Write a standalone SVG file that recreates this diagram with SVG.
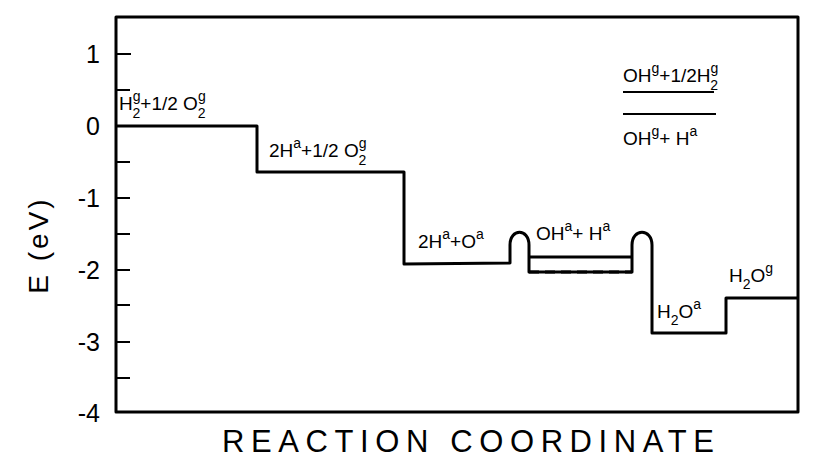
<svg xmlns="http://www.w3.org/2000/svg" width="815" height="459" viewBox="0 0 815 459">
<style>
.ln{fill:none;stroke:#000;stroke-width:3;stroke-linejoin:round}
.tk{stroke:#000;stroke-width:2}
text{font-family:"Liberation Sans",Arial,sans-serif;fill:#000}
.lb{font-size:19px}
.ax{font-size:25px}
.sb{font-size:14px}
</style>
<rect x="0" y="0" width="815" height="459" fill="#fff"/>
<g id="axes">
<rect x="116" y="17" width="682" height="395" class="ln"/>
<g class="tk">
<line x1="116" y1="54" x2="131" y2="54"/><line x1="116" y1="90" x2="130" y2="90"/>
<line x1="116" y1="126" x2="130" y2="126"/><line x1="116" y1="162" x2="130" y2="162"/>
<line x1="116" y1="198" x2="130" y2="198"/><line x1="116" y1="234" x2="130" y2="234"/>
<line x1="116" y1="270" x2="130" y2="270"/><line x1="116" y1="305" x2="130" y2="305"/>
<line x1="116" y1="342" x2="130" y2="342"/><line x1="116" y1="378" x2="130" y2="378"/>
</g>
<g class="ax" text-anchor="end">
<text x="100" y="63">1</text><text x="100" y="135">0</text><text x="100" y="207">-1</text>
<text x="100" y="279">-2</text><text x="100" y="351">-3</text><text x="100" y="422">-4</text>
</g>
<text transform="translate(48,245) rotate(-90)" text-anchor="middle" font-size="28" letter-spacing="3">E (eV)</text>
<text x="222" y="452" font-size="31" textLength="492" lengthAdjust="spacing">REACTION  COORDINATE</text>
</g>
<g id="connectors">
<path class="ln" d="M116,126 H257 V172 H404 V264 L510,263 V245 C510,228 529,228 529,245 V272 H632 V245 C632,228 652,228 652,245 V333 H726 V298 H798"/>
<path class="ln" d="M529,257 H632"/>
<path class="ln" d="M529,272 H632" stroke-dasharray="10,6"/>
</g>
<g id="n1"><text x="119" y="110" class="lb">H<tspan class="sb" dy="-9">g</tspan><tspan class="sb" dx="-8" dy="17">2</tspan><tspan dy="-8">+1/2 O</tspan><tspan class="sb" dy="-9">g</tspan><tspan class="sb" dx="-8" dy="17">2</tspan></text></g>
<g id="n2"><text x="269" y="157" class="lb">2H<tspan class="sb" dy="-9">a</tspan><tspan dy="9">+1/2 O</tspan><tspan class="sb" dy="-9">g</tspan><tspan class="sb" dx="-8" dy="17">2</tspan></text></g>
<g id="n3"><text x="418" y="248" class="lb">2H<tspan class="sb" dy="-9">a</tspan><tspan dy="9">+O</tspan><tspan class="sb" dy="-9">a</tspan></text></g>
<g id="n4"><text x="536" y="240" class="lb">OH<tspan class="sb" dy="-9">a</tspan><tspan dy="9">+ H</tspan><tspan class="sb" dy="-9">a</tspan></text></g>
<g id="n5"><text x="657" y="318" class="lb">H<tspan class="sb" dy="7">2</tspan><tspan dy="-7">O</tspan><tspan class="sb" dy="-9">a</tspan></text></g>
<g id="n6"><text x="729" y="282" class="lb">H<tspan class="sb" dy="7">2</tspan><tspan dy="-7">O</tspan><tspan class="sb" dy="-9">g</tspan></text></g>
<g id="legend">
<text x="623" y="82" class="lb">OH<tspan class="sb" dy="-9">g</tspan><tspan dy="9">+1/2H</tspan><tspan class="sb" dy="-9">g</tspan><tspan class="sb" dx="-8" dy="17">2</tspan></text>
<line x1="623" y1="92" x2="714" y2="92" class="tk" stroke-width="3"/>
<line x1="623" y1="114" x2="716" y2="114" class="tk" stroke-width="3"/>
<text x="623" y="145" class="lb">OH<tspan class="sb" dy="-9">g</tspan><tspan dy="9">+ H</tspan><tspan class="sb" dy="-9">a</tspan></text>
</g>
</svg>
